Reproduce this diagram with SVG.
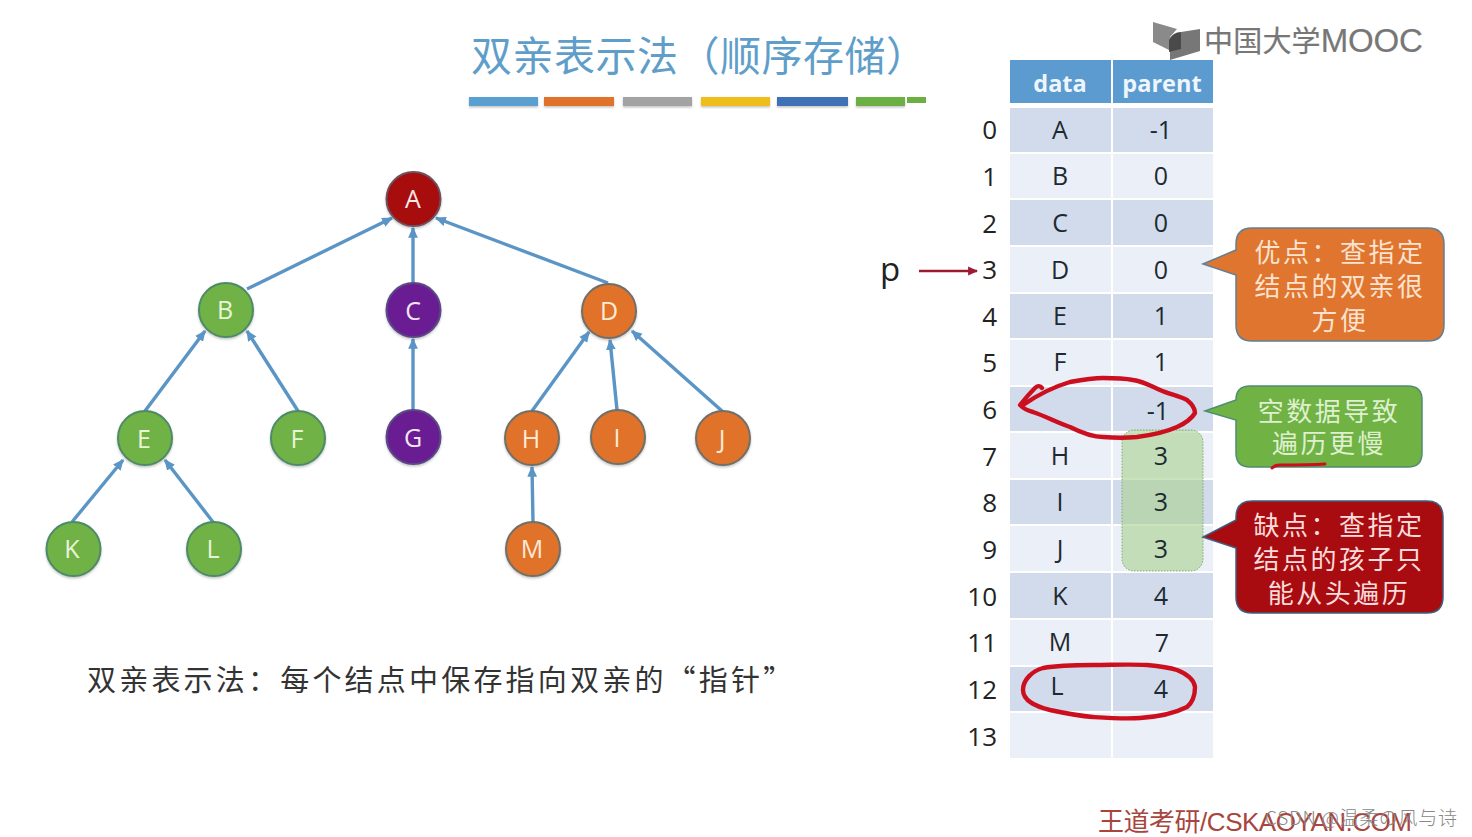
<svg xmlns="http://www.w3.org/2000/svg" width="1472" height="837" viewBox="0 0 1472 837">
<style>
.cjk{font-family:"Noto Sans CJK SC","Noto Sans",sans-serif}
.n circle{stroke-width:2;filter:url(#sh)}
.n text{font-family:"Open Sans","Noto Sans",sans-serif;font-size:25px;text-anchor:middle}
.g circle{fill:#70b244;stroke:#4d8a68}.g text{fill:#e8f5d8}
.o circle{fill:#e0722c;stroke:#6f6f68}.o text{fill:#fdebd6}
.p circle{fill:#6a1d92;stroke:#5a4a86}.p text{fill:#f0e6f6}
.r circle{fill:#a80808;stroke:#6e5060}.r text{fill:#fbe8e8}
.e{stroke:#5b95c6;stroke-width:3.4;fill:none;marker-end:url(#ah)}
.c1{fill:#d1dbeb}.c2{fill:#ebeff7}.h{fill:#5b9bd0}
.t{font-family:"Open Sans","Noto Sans",sans-serif;font-size:25px;text-anchor:middle;fill:#1e2a30}
.i{font-family:"Open Sans","Noto Sans",sans-serif;font-size:26px;text-anchor:end;fill:#222}
.th{font-family:"Open Sans","Noto Sans",sans-serif;font-size:23.5px;font-weight:700;text-anchor:middle;fill:#eef6fb}
.bar{height:9px;filter:url(#sh)}
.call{stroke-width:1.5}
.ct{font-size:26px;letter-spacing:2.5px;text-anchor:middle}
.ink{fill:none;stroke:#cc0f1e;stroke-width:4.4;stroke-linecap:round;stroke-linejoin:round}
</style>
<defs>
<filter id="sh" x="-20%" y="-20%" width="140%" height="150%"><feDropShadow dx="0" dy="1.5" stdDeviation="1" flood-color="#555" flood-opacity="0.35"/></filter>
<marker id="ah" markerWidth="11" markerHeight="11" refX="8" refY="4" orient="auto" markerUnits="userSpaceOnUse" viewBox="0 0 9 8"><path d="M0 0L9 4L0 8Z" fill="#5b95c6"/></marker>
<marker id="ahr" markerWidth="10" markerHeight="10" refX="8" refY="4" orient="auto" markerUnits="userSpaceOnUse" viewBox="0 0 9 8"><path d="M0 0L9 4L0 8Z" fill="#9c1b30"/></marker>
</defs>
<rect width="1472" height="837" fill="#fff"/>

<g id="title">
<text class="cjk" x="471" y="71" font-size="41" letter-spacing="0.5" fill="#5f9ec9">双亲表示法（顺序存储）</text>
<rect class="bar" x="469" y="97" width="69" fill="#5a9fd0"/>
<rect class="bar" x="544" y="97" width="70" fill="#e0722c"/>
<rect class="bar" x="623" y="97" width="69" fill="#a3a3a3"/>
<rect class="bar" x="701" y="97" width="69" fill="#f0be1c"/>
<rect class="bar" x="777" y="97" width="71" fill="#3f6fb5"/>
<rect class="bar" x="856" y="97" width="49" fill="#6cb044"/>
<rect x="907" y="97" width="19" height="6" fill="#6cb044"/>
</g>

<g id="logo">
<path d="M1153 22L1177 29L1170 37L1169 50L1153 42Z" fill="#8a8a8a"/>
<path d="M1181 32L1200 29L1200 51L1170 60L1170 50L1181 48Z" fill="#777"/>
<path d="M1169 52L1169 40Q1173 32 1181 32L1181 49Z" fill="#4a4a4a"/>
<text x="1204" y="52" font-size="29" fill="#777" stroke="#777" stroke-width="0.2"><tspan font-family="'Noto Sans CJK SC',sans-serif" letter-spacing="0.2">中国大学</tspan><tspan font-family="'Liberation Sans',sans-serif" font-size="33" letter-spacing="-0.2">MOOC</tspan></text>
</g>

<g id="connectors">
<line class="e" x1="247" y1="289" x2="392" y2="218"/>
<line class="e" x1="413" y1="283" x2="413" y2="228"/>
<line class="e" x1="608" y1="283" x2="436" y2="218"/>
<line class="e" x1="145" y1="411" x2="205" y2="331"/>
<line class="e" x1="298" y1="411" x2="247" y2="331"/>
<line class="e" x1="413" y1="410" x2="413" y2="339"/>
<line class="e" x1="532" y1="411" x2="589" y2="332"/>
<line class="e" x1="617" y1="410" x2="610" y2="340"/>
<line class="e" x1="722" y1="411" x2="632" y2="331"/>
<line class="e" x1="72" y1="522" x2="123" y2="460"/>
<line class="e" x1="213" y1="522" x2="165" y2="460"/>
<line class="e" x1="533" y1="522" x2="532" y2="467"/>
</g>

<g id="node-A" class="n r"><circle cx="413.500" cy="199" r="27"/><text x="413" y="208">A</text></g>
<g id="node-B" class="n g"><circle cx="226" cy="310" r="27"/><text x="225" y="319">B</text></g>
<g id="node-C" class="n p"><circle cx="413.500" cy="310" r="27"/><text x="413" y="320">C</text></g>
<g id="node-D" class="n o"><circle cx="609" cy="311" r="27"/><text x="609" y="320">D</text></g>
<g id="node-E" class="n g"><circle cx="145" cy="438" r="27"/><text x="144" y="448">E</text></g>
<g id="node-F" class="n g"><circle cx="298" cy="438" r="27"/><text x="297" y="448">F</text></g>
<g id="node-G" class="n p"><circle cx="413.500" cy="437" r="27"/><text x="413" y="447">G</text></g>
<g id="node-H" class="n o"><circle cx="532" cy="438" r="27"/><text x="531" y="448">H</text></g>
<g id="node-I" class="n o"><circle cx="618" cy="437" r="27"/><text x="617" y="447">I</text></g>
<g id="node-J" class="n o"><circle cx="723" cy="438" r="27"/><text x="722" y="448">J</text></g>
<g id="node-K" class="n g"><circle cx="73.500" cy="549" r="27"/><text x="72" y="558">K</text></g>
<g id="node-L" class="n g"><circle cx="214" cy="549" r="27"/><text x="213" y="558">L</text></g>
<g id="node-M" class="n o"><circle cx="533" cy="549" r="27"/><text x="532" y="558">M</text></g>

<text id="caption" class="cjk" x="87" y="691" font-size="29" letter-spacing="3.2" fill="#333">双亲表示法：每个结点中保存指向双亲的“指针”</text>

<g id="table">
<rect class="h" x="1010" y="60" width="101" height="43"/><rect class="h" x="1113" y="60" width="100" height="43"/>
<text class="th" x="1060" y="92">data</text><text class="th" x="1162" y="92">parent</text>
<rect class="c1" x="1010" y="108" width="101" height="44"/><rect class="c1" x="1113" y="108" width="100" height="44"/>
<rect class="c2" x="1010" y="154" width="101" height="44"/><rect class="c2" x="1113" y="154" width="100" height="44"/>
<rect class="c1" x="1010" y="200" width="101" height="45"/><rect class="c1" x="1113" y="200" width="100" height="45"/>
<rect class="c2" x="1010" y="247" width="101" height="45"/><rect class="c2" x="1113" y="247" width="100" height="45"/>
<rect class="c1" x="1010" y="294" width="101" height="44"/><rect class="c1" x="1113" y="294" width="100" height="44"/>
<rect class="c2" x="1010" y="340" width="101" height="45"/><rect class="c2" x="1113" y="340" width="100" height="45"/>
<rect class="c1" x="1010" y="387" width="101" height="44"/><rect class="c1" x="1113" y="387" width="100" height="44"/>
<rect class="c2" x="1010" y="433" width="101" height="45"/><rect class="c2" x="1113" y="433" width="100" height="45"/>
<rect class="c1" x="1010" y="480" width="101" height="44"/><rect class="c1" x="1113" y="480" width="100" height="44"/>
<rect class="c2" x="1010" y="526" width="101" height="45"/><rect class="c2" x="1113" y="526" width="100" height="45"/>
<rect class="c1" x="1010" y="573" width="101" height="45"/><rect class="c1" x="1113" y="573" width="100" height="45"/>
<rect class="c2" x="1010" y="620" width="101" height="45"/><rect class="c2" x="1113" y="620" width="100" height="45"/>
<rect class="c1" x="1010" y="667" width="101" height="44"/><rect class="c1" x="1113" y="667" width="100" height="44"/>
<rect class="c2" x="1010" y="713" width="101" height="45"/><rect class="c2" x="1113" y="713" width="100" height="45"/>
<rect id="highlight" x="1122" y="430" width="81" height="141" rx="12" fill="#a9d18e" fill-opacity="0.6" stroke="#7fae68" stroke-width="1" stroke-dasharray="1.5 1.5"/>
<text class="i" x="997" y="139">0</text><text class="t" x="1060" y="139">A</text><text class="t" x="1161" y="139">-1</text>
<text class="i" x="997" y="186">1</text><text class="t" x="1060" y="185">B</text><text class="t" x="1161" y="185">0</text>
<text class="i" x="997" y="233">2</text><text class="t" x="1060" y="232">C</text><text class="t" x="1161" y="232">0</text>
<text class="i" x="997" y="279">3</text><text class="t" x="1060" y="279">D</text><text class="t" x="1161" y="279">0</text>
<text class="i" x="997" y="326">4</text><text class="t" x="1060" y="325">E</text><text class="t" x="1161" y="325">1</text>
<text class="i" x="997" y="372">5</text><text class="t" x="1060" y="371">F</text><text class="t" x="1161" y="371">1</text>
<text class="i" x="997" y="419">6</text><text class="t" x="1158" y="420">-1</text>
<text class="i" x="997" y="466">7</text><text class="t" x="1060" y="465">H</text><text class="t" x="1161" y="465">3</text>
<text class="i" x="997" y="512">8</text><text class="t" x="1060" y="511">I</text><text class="t" x="1161" y="511">3</text>
<text class="i" x="997" y="559">9</text><text class="t" x="1060" y="558">J</text><text class="t" x="1161" y="558">3</text>
<text class="i" x="997" y="606">10</text><text class="t" x="1060" y="605">K</text><text class="t" x="1161" y="605">4</text>
<text class="i" x="997" y="652">11</text><text class="t" x="1060" y="651">M</text><text class="t" x="1162" y="652">7</text>
<text class="i" x="997" y="699">12</text><text class="t" x="1057" y="695">L</text><text class="t" x="1161" y="698">4</text>
<text class="i" x="997" y="746">13</text>
</g>

<g id="pointer">
<text x="880" y="281" font-family="'Open Sans','Noto Sans',sans-serif" font-size="33" fill="#222">p</text>
<line x1="919" y1="271" x2="977" y2="271" stroke="#9c1b30" stroke-width="2.4" marker-end="url(#ahr)"/>
</g>

<g id="callout-pro">
<path class="call" d="M1252 228H1428Q1444 228 1444 244V325Q1444 341 1428 341H1252Q1236 341 1236 325V275L1203 264L1236 250V244Q1236 228 1252 228Z" fill="#e0752f" stroke="#5f7f95"/>
<g class="cjk ct" fill="#fbe3cf"><text x="1340" y="262">优点：查指定</text><text x="1340" y="296">结点的双亲很</text><text x="1340" y="330">方便</text></g>
</g>
<g id="callout-empty">
<path class="call" d="M1250 386H1408Q1422 386 1422 400V453Q1422 467 1408 467H1250Q1236 467 1236 453V420L1205 411L1236 400Q1236 386 1250 386Z" fill="#70b244" stroke="#4f8c72"/>
<g class="cjk ct" fill="#def0cf"><text x="1329" y="421">空数据导致</text><text x="1329" y="453">遍历更慢</text></g>
</g>
<g id="callout-con">
<path class="call" d="M1252 501H1427Q1443 501 1443 517V597Q1443 613 1427 613H1252Q1236 613 1236 597V548L1203 537L1236 520V517Q1236 501 1252 501Z" fill="#a80c10" stroke="#3f5f7f"/>
<g class="cjk ct" fill="#fbdcdc"><text x="1339" y="535">缺点：查指定</text><text x="1339" y="569">结点的孩子只</text><text x="1339" y="603">能从头遍历</text></g>
</g>

<g id="annotations">
<path class="ink" d="M1042 388C1040 385 1037 386 1035 388C1029 394 1024 400 1020 405C1024 409 1029 411 1033 412C1045 416 1058 423 1070 427C1080 432 1092 437 1103 437C1115 438 1127 438 1137 437C1152 435 1166 432 1177 427C1186 423 1192 418 1195 413C1195 408 1192 404 1187 400C1179 396 1169 394 1160 390C1151 386 1142 381 1133 380C1123 378 1113 378 1103 378C1092 378 1081 380 1070 382C1053 387 1036 396 1023 405"/>
<path class="ink" d="M1023 690C1023 680 1032 671 1043 668C1060 665 1076 665 1093 665C1111 665 1129 664 1147 665C1158 666 1168 667 1177 670C1187 674 1194 680 1195 687C1195 695 1193 702 1187 707C1173 714 1156 717 1140 718C1124 719 1109 718 1093 717C1079 716 1064 713 1050 710C1038 707 1023 702 1023 690Z"/>
<path class="ink" style="stroke-width:3" d="M1272 468C1274 466 1277 465 1280 465C1295 465 1310 465 1325 464"/>
</g>

<g id="watermarks">
<text x="1098" y="831" font-size="26" fill="#a8453e" font-family="'Liberation Sans','Noto Sans CJK SC',sans-serif" textLength="314">王道考研/CSKAOYAN.COM</text>
<text class="cjk" x="1265" y="825" font-size="19" font-weight="300" fill="#888" textLength="192">CSDN @温柔の风与诗</text>
</g>
</svg>
